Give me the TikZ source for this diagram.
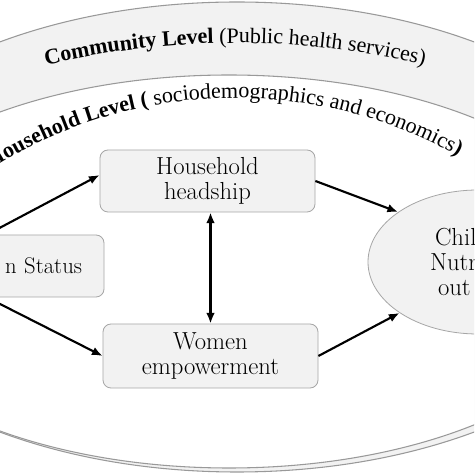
\documentclass[tikz,border=0pt]{standalone}
\usepackage{fontspec}
\usetikzlibrary{arrows.meta,shapes.geometric,decorations.text}
\newfontfamily\lvlfont{Liberation Serif}
\newcommand\lvlb{\lvlfont\fontsize{16.5}{19}\selectfont\bfseries}
\newcommand\lvlr{\lvlfont\fontsize{16.5}{19}\selectfont}

\begin{document}
\begin{tikzpicture}[x=0.75pt,y=0.75pt,
    box/.style={draw=black!35, fill=black!5, rounded corners=6pt, line width=0.6pt,
      align=center, font=\fontsize{18.5}{19}\selectfont},
    arr/.style={-{Latex[length=8pt,width=6.5pt]}, line width=1.6pt},
    dbl/.style={{Latex[length=8pt,width=6.5pt]}-{Latex[length=8pt,width=6.5pt]}, line width=1.6pt}]
  \clip (0,0) rectangle (474,474);
  % the two levels
  \draw[black!40, fill=black!5, line width=0.8pt] (237,237) ellipse [x radius=425, y radius=235];
  \draw[black!40, fill=white, line width=0.8pt] (229,202.5) ellipse [x radius=392, y radius=196.5];
  \path[decorate, decoration={text along path, text align=center,
      text={|\lvlb|Community Level |\lvlr|(Public health services)}}]
    (235,-383) ++(106:814) arc[start angle=106, end angle=74, radius=814];
  \path[decorate, decoration={text along path, text align=center,
      text={|\lvlb|Household Level ( |\lvlr|sociodemographics and economics|\lvlb|)}}]
    (235,-79) ++(125:455) arc[start angle=125, end angle=58, radius=455];
  % boxes
  \node[box, minimum width=161.25pt, minimum height=46.5pt] (headship) at (207.5,293) {Household\\headship};
  \node[box, minimum width=161.25pt, minimum height=48pt] (women) at (210.5,118) {Women\\empowerment};
  \node[box, font=\fontsize{17}{19}\selectfont, minimum width=175.5pt, minimum height=46.5pt,
    text width=142.5pt, inner xsep=16.5pt, align=right] (status) at (-13,208) {n Status};
  \node[box, ellipse, minimum width=165pt, minimum height=108pt, text width=72pt,
    align=left] (child) at (478,212) {\hspace*{3.75pt}Chil\\Nutr\\\hspace*{6pt}out};
  % links
  \draw[arr] (status.north) -- ([yshift=4.5pt]headship.west);
  \draw[arr] (status.south) -- (women.west);
  \draw[arr] (headship.east) -- (child.148);
  \draw[arr] (women.east) -- (child.213);
  \draw[dbl] (women.north |- headship.south) -- (women.north);
\end{tikzpicture}
\end{document}
